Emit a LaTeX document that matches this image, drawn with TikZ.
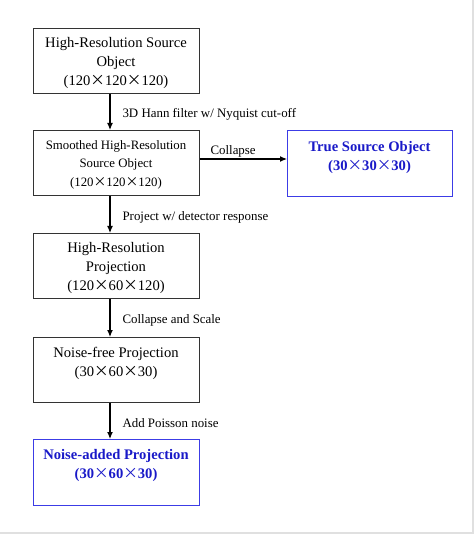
\documentclass[tikz,border=0pt]{standalone}
\usepackage{fontspec}
\setmainfont{Liberation Serif}
\newfontfamily\cjk{Noto Sans CJK SC}
\usetikzlibrary{arrows.meta}
\definecolor{bluebox}{RGB}{60,60,230}
\definecolor{bluetext}{RGB}{25,25,200}
\newcommand{\X}{{\cjk\mdseries ×}}
\begin{document}
\begin{tikzpicture}[x=1pt,y=-1pt,
  box/.style={draw=black!80, line width=0.9pt, minimum width=166pt, minimum height=65pt, anchor=north west, inner sep=0pt},
  bbox/.style={draw=bluebox, line width=0.9pt, minimum width=165pt, minimum height=66pt, anchor=north west, inner sep=0pt},
  txt/.style={align=center, font=\fontsize{14.6}{19}\selectfont},
  stxt/.style={align=center, font=\fontsize{12.8}{18.5}\selectfont},
  btxt/.style={align=center, font=\fontsize{14.6}{19}\selectfont\bfseries, text=bluetext},
  lbl/.style={anchor=west, font=\fontsize{12.9}{14}\selectfont},
  conn/.style={line width=1.2pt, -{Latex[length=7pt,width=6pt]}}]
\useasboundingbox (0,0) rectangle (474,534);
\fill[black!12] (472,0) rectangle (474,534);
\fill[black!12] (0,532) rectangle (474,534);
% boxes
\node[box] (b1) at (33,28) {};
\node[txt] (t1) at (116,62.5) {High-Resolution Source\\Object\\(120\X120\X120)};
\node[box] (b2) at (33,130) {};
\node[stxt] (t2) at (116,164.5) {Smoothed High-Resolution\\Source Object\\(120\X120\X120)};
\node[bbox] (b3) at (287,130) {};
\node[btxt] (t3) at (369.5,157) {True Source Object\\(30\X30\X30)};
\node[box] (b4) at (33,233) {};
\node[txt] (t4) at (116,268) {High-Resolution\\Projection\\(120\X60\X120)};
\node[box] (b5) at (33,337) {};
\node[txt] (t5) at (116,363) {Noise-free Projection\\(30\X60\X30)};
\node[bbox, minimum width=166pt] (b6) at (33,439) {};
\node[btxt] (t6) at (116,465) {Noise-added Projection\\(30\X60\X30)};
% connectors
\coordinate (c1) at (110,93);
\draw[conn] (b1.south west -| c1) -- (b2.north west -| c1);
\draw[conn] (b2.south west -| c1) -- (b4.north west -| c1);
\draw[conn] (b4.south west -| c1) -- (b5.north west -| c1);
\draw[conn] (b5.south west -| c1) -- (b6.north west -| c1);
\coordinate (c3) at (0,159);
\draw[conn] (b2.east |- c3) -- (b3.west |- c3);
% labels
\node[lbl] (l1) at (119,114) {3D Hann filter w/ Nyquist cut-off};
\node[lbl] (l2) at (207,151) {Collapse};
\node[lbl] (l3) at (119,217) {Project w/ detector response};
\node[lbl] (l4) at (119,320) {Collapse and Scale};
\node[lbl] (l5) at (119,423) {Add Poisson noise};
\end{tikzpicture}
\end{document}
